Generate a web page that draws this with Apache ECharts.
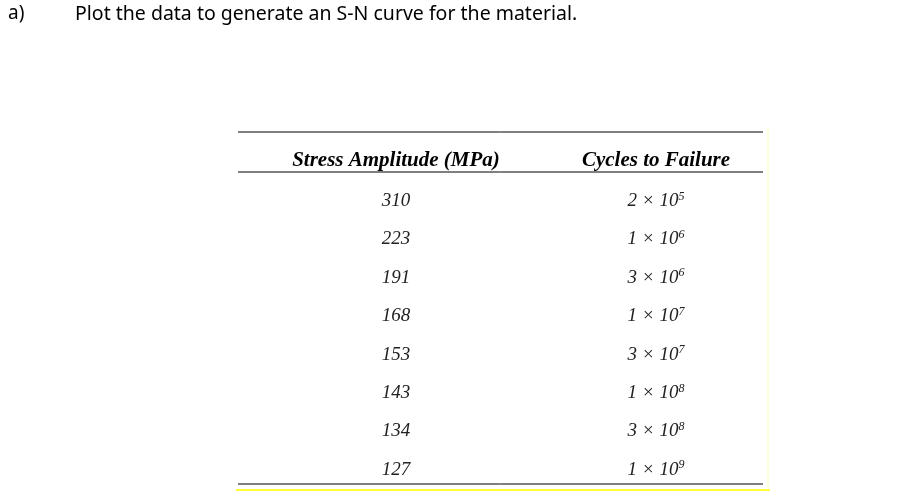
<!DOCTYPE html>
<html lang="en">
<head>
<meta charset="UTF-8">
<script src="https://cdn.jsdelivr.net/npm/echarts@6/dist/echarts.min.js"></script>
<title>S-N data table</title>
</head>
<body style="margin:0;background:#fff">
<div id="chart-container" style="width:903px;height:493px;"></div>
<script>
// table contents
const stressAmplitude = [310, 223, 191, 168, 153, 143, 134, 127];
const cyclesMantissa = [2, 1, 3, 1, 3, 1, 3, 1];
const cyclesExponent = [5, 6, 6, 7, 7, 8, 8, 9];
const headers = ['Stress Amplitude (MPa)', 'Cycles to Failure'];

const serif = '"Liberation Serif", "DejaVu Serif", serif';
const colX = [396, 656];
const rowY0 = 201, rowStep = 38.4;

const elements = [
    {type: 'text', left: 8, top: 4, style: {text: 'a)', font: '19px "Noto Sans", sans-serif', fill: '#000'}},
    {type: 'text', left: 75, top: 4, style: {text: 'Plot the data to generate an S-N curve for the material.', font: '19.5px "Noto Sans", sans-serif', fill: '#000'}},
    {type: 'line', shape: {x1: 238, y1: 132, x2: 763, y2: 132}, style: {stroke: '#000', lineWidth: 1}},
    {type: 'line', shape: {x1: 238, y1: 172, x2: 763, y2: 172}, style: {stroke: '#000', lineWidth: 1}},
    {type: 'line', shape: {x1: 238, y1: 484, x2: 763, y2: 484}, style: {stroke: '#000', lineWidth: 1}},
    {type: 'line', shape: {x1: 236, y1: 490, x2: 770, y2: 490}, style: {stroke: '#ffff33', lineWidth: 2}},
    {type: 'line', shape: {x1: 768, y1: 128, x2: 768, y2: 490}, style: {stroke: '#ffffb0', lineWidth: 1}}
];

headers.forEach((h, i) => {
    elements.push({type: 'text', x: colX[i], y: 161, style: {
        text: h, font: 'italic bold 21px ' + serif, fill: '#000', align: 'center', verticalAlign: 'middle'}});
});

stressAmplitude.forEach((s, i) => {
    const y = rowY0 + i * rowStep;
    elements.push({type: 'text', x: colX[0], y: y, style: {
        text: String(s), font: 'italic 19px ' + serif, fill: '#222', align: 'center', verticalAlign: 'middle'}});
    elements.push({type: 'text', x: colX[1], y: y, style: {
        text: cyclesMantissa[i] + ' × 10{sup|' + cyclesExponent[i] + '}',
        font: 'italic 19px ' + serif, fill: '#222', align: 'center', verticalAlign: 'middle',
        rich: {sup: {font: 'italic 12px ' + serif, fill: '#222', verticalAlign: 'top', padding: [0, 0, 9, 0]}}}});
});

const chart = echarts.init(document.getElementById('chart-container'));
chart.setOption({graphic: {elements: elements}});
</script>
</body>
</html>
